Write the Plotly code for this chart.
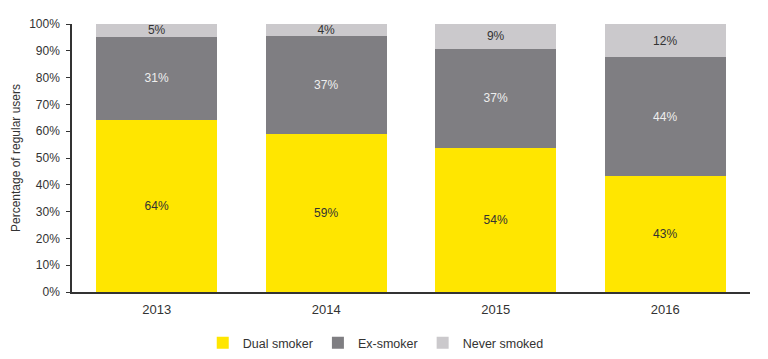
import plotly.graph_objects as go

years = ["2013", "2014", "2015", "2016"]
dual = [64.2, 59.0, 53.8, 43.2]
ex = [31.0, 36.6, 37.0, 44.4]
never = [4.8, 4.4, 9.2, 12.4]
dual_lbl = ["64%", "59%", "54%", "43%"]
ex_lbl = ["31%", "37%", "37%", "44%"]
never_lbl = ["5%", "4%", "9%", "12%"]
yticks = [0, 10, 20, 30, 40, 50, 60, 70, 80, 90, 100]
ytick_text = [f"{v}%" for v in yticks]

font = "Liberation Sans, Arial, sans-serif"
fig = go.Figure()
fig.add_bar(x=years, y=dual, name="Dual smoker", marker_color="#FFE600",
            text=dual_lbl, textposition="inside", insidetextanchor="middle",
            textfont=dict(color="#333333", size=12, family=font))
fig.add_bar(x=years, y=ex, name="Ex-smoker", marker_color="#7F7E82",
            text=ex_lbl, textposition="inside", insidetextanchor="middle",
            textfont=dict(color="#EEEEEE", size=12, family=font))
fig.add_bar(x=years, y=never, name="Never smoked", marker_color="#CBC9CC",
            text=never_lbl, textposition="inside", insidetextanchor="middle",
            textfont=dict(color="#333333", size=12, family=font))
fig.update_traces(marker_line_width=0, cliponaxis=False)

fig.update_layout(
    barmode="stack", bargap=0.284,
    width=760, height=351,
    margin=dict(l=64, r=18, t=16, b=66.5, autoexpand=False),
    plot_bgcolor="white", paper_bgcolor="white",
    font=dict(family=font, size=12, color="#333333"),
    uniformtext=dict(minsize=8, mode="show"),
    showlegend=True,
    legend=dict(orientation="h", x=0.448, xanchor="center", y=-0.135, yanchor="top",
                font=dict(size=12.5, color="#333333"), traceorder="normal",
                itemwidth=30, itemsizing="constant"),
    xaxis=dict(showline=True, linecolor="#333333", linewidth=1.5, ticks="",
               tickfont=dict(size=13, color="#333333"), showgrid=False, automargin=False,
               ticklabelstandoff=5),
    yaxis=dict(range=[0, 100], tickvals=yticks, ticktext=ytick_text,
               showline=True, linecolor="#333333", linewidth=1.5,
               ticks="outside", ticklen=4, tickcolor="#333333",
               showgrid=False, zeroline=False, automargin=False,
               tickfont=dict(size=12, color="#333333"), ticklabelstandoff=4,
               title=dict(text="Percentage of regular users", font=dict(size=12, color="#333333"),
                          standoff=6)),
)
fig.write_html("out.html")
